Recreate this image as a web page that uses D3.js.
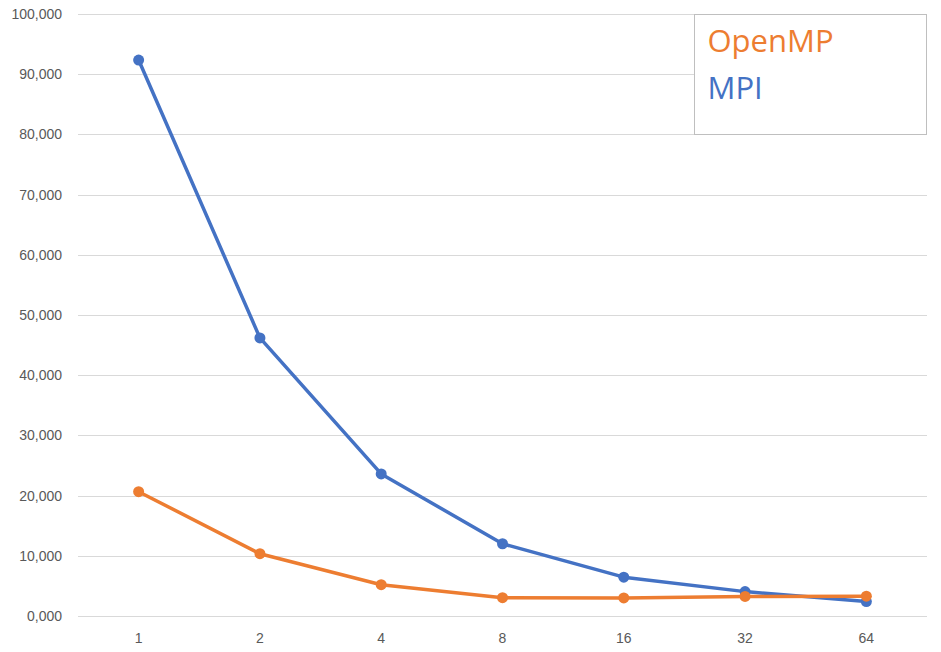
<!DOCTYPE html>
<html>
<head>
<meta charset="utf-8">
<script src="https://cdn.jsdelivr.net/npm/d3@7"></script>
<style>
  html, body { margin: 0; padding: 0; background: #fff; }
  svg { display: block; font-family: "Open Sans", "Noto Sans", sans-serif; }
  .tick-label { fill: #595959; font-size: 14px; }
  .grid line { stroke: #d9d9d9; stroke-width: 1; }
</style>
</head>
<body>
<div id="chart"></div>
<script>
const WIDTH = 941;
const HEIGHT = 652;
const MARGIN = { top: 14, right: 14, bottom: 36, left: 78 };

// Processes on the x axis (categorical, evenly spaced)
const categories = ["1", "2", "4", "8", "16", "32", "64"];

// Values (y axis uses comma as decimal separator)
const openmpValues = [20.65, 10.35, 5.2, 3.05, 3.0, 3.25, 3.3];
const mpiValues = [92.35, 46.2, 23.6, 12.0, 6.45, 4.05, 2.4];

const yTicks = [0, 10, 20, 30, 40, 50, 60, 70, 80, 90, 100];

const SERIES = [
  { key: "mpi", label: "MPI", color: "#4472c4", values: mpiValues },
  { key: "openmp", label: "OpenMP", color: "#ed7d31", values: openmpValues },
];
const LEGEND_ORDER = ["openmp", "mpi"];

const locale = d3.formatLocale({ decimal: ",", thousands: ".", grouping: [3], currency: ["", ""] });
const fmt = locale.format(".3f");

const innerWidth = WIDTH - MARGIN.left - MARGIN.right;
const innerHeight = HEIGHT - MARGIN.top - MARGIN.bottom;

const svg = d3.select("#chart")
  .append("svg")
  .attr("width", WIDTH)
  .attr("height", HEIGHT)
  .attr("viewBox", `0 0 ${WIDTH} ${HEIGHT}`);

const g = svg.append("g")
  .attr("transform", `translate(${MARGIN.left},${MARGIN.top})`);

const x = d3.scaleBand()
  .domain(categories)
  .range([0, innerWidth]);

const y = d3.scaleLinear()
  .domain([0, 100])
  .range([innerHeight, 0]);

// —— Gridlines ——
g.append("g")
  .attr("class", "grid")
  .selectAll("line")
  .data(yTicks)
  .join("line")
  .attr("x1", 0)
  .attr("x2", innerWidth)
  .attr("y1", (d) => Math.round(y(d)) + 0.5)
  .attr("y2", (d) => Math.round(y(d)) + 0.5);

// —— Axes (labels only, Excel style) ——
const yAxis = g.append("g")
  .call(d3.axisLeft(y).tickValues(yTicks).tickFormat(fmt).tickSize(0).tickPadding(16));
yAxis.select(".domain").remove();
yAxis.selectAll("text").attr("class", "tick-label").attr("font-size", null).attr("font-family", null);

const xAxis = g.append("g")
  .attr("transform", `translate(0,${innerHeight})`)
  .call(d3.axisBottom(x).tickSize(0).tickPadding(17));
xAxis.select(".domain").remove();
xAxis.selectAll("text").attr("class", "tick-label").attr("font-size", null).attr("font-family", null);

// —— Lines + markers ——
const cx = (d, i) => x(categories[i]) + x.bandwidth() / 2;

const line = d3.line()
  .x(cx)
  .y((d) => y(d));

SERIES.forEach((s) => {
  g.append("path")
    .datum(s.values)
    .attr("fill", "none")
    .attr("stroke", s.color)
    .attr("stroke-width", 3.5)
    .attr("stroke-linejoin", "round")
    .attr("d", line);

  g.selectAll(`.dot-${s.key}`)
    .data(s.values)
    .join("circle")
    .attr("class", `dot-${s.key}`)
    .attr("cx", cx)
    .attr("cy", (d) => y(d))
    .attr("r", 5.5)
    .attr("fill", s.color);
});

// —— Legend ——
const legend = svg.append("g")
  .attr("transform", "translate(694.5,14.5)");

legend.append("rect")
  .attr("width", 232)
  .attr("height", 120)
  .attr("fill", "#fff")
  .attr("stroke", "#bfbfbf")
  .attr("stroke-width", 1);

legend.selectAll("text")
  .data(LEGEND_ORDER.map((k) => SERIES.find((s) => s.key === k)))
  .join("text")
  .attr("x", 13)
  .attr("y", (d, i) => 37 + i * 47)
  .attr("fill", (d) => d.color)
  .attr("font-size", 31)
  .text((d) => d.label);
</script>
</body>
</html>
